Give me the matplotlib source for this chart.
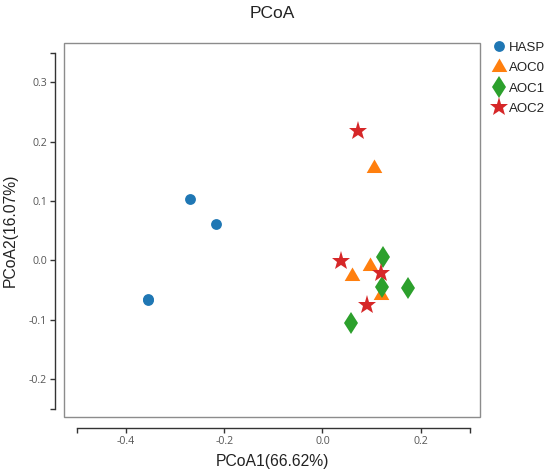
import matplotlib
matplotlib.use("Agg")
import matplotlib.pyplot as plt
from matplotlib.patches import Rectangle
from matplotlib.lines import Line2D

# ---- data ----
groups = ["HASP", "AOC0", "AOC1", "AOC2"]
hasp_x = [-0.269, -0.216, -0.356, -0.355]
hasp_y = [0.1035, 0.061, -0.065, -0.067]
aoc0_x = [0.104, 0.061, 0.096, 0.120]
aoc0_y = [0.156, -0.026, -0.010, -0.058]
aoc1_x = [0.124, 0.121, 0.175, 0.058]
aoc1_y = [0.005, -0.045, -0.047, -0.105]
aoc2_x = [0.073, 0.037, 0.120, 0.090]
aoc2_y = [0.218, -0.002, -0.022, -0.076]

xtick_vals = [-0.5, -0.4, -0.2, 0.0, 0.2, 0.3]
xtick_labels = ["", "-0.4", "-0.2", "0.0", "0.2", ""]
ytick_vals = [-0.25, -0.2, -0.1, 0.0, 0.1, 0.2, 0.3, 0.35]
ytick_labels = ["", "-0.2", "-0.1", "0.0", "0.1", "0.2", "0.3", ""]

title = "PCoA"
xlabel = "PCoA1(66.62%)"
ylabel = "PCoA2(16.07%)"

colors = ["#1f77b4", "#ff7f0e", "#2ca02c", "#d62728"]
tri = [(0, 0.577), (-0.5, -0.289), (0.5, -0.289)]
markers = ["o", tri, "d", "*"]
msizes = [7.8, 13.0, 11.5, 14.0]

plt.rcParams["font.family"] = ["Liberation Sans", "DejaVu Sans"]

fig = plt.figure(figsize=(5.5, 4.73), dpi=100)
ax = fig.add_axes([0.11636, 0.11776, 0.75636, 0.79133])
ax.set_xlim(-0.5265, 0.3208)
ax.set_ylim(-0.2647, 0.3663)

# frame box
ax.add_patch(Rectangle((0, 0), 1, 1, transform=ax.transAxes, fill=False,
                       edgecolor="#8c8c8c", linewidth=1.0, clip_on=False, zorder=1))

series = [(hasp_x, hasp_y), (aoc0_x, aoc0_y), (aoc1_x, aoc1_y), (aoc2_x, aoc2_y)]
for (xs, ys), g, c, m, s in zip(series, groups, colors, markers, msizes):
    ax.plot(xs, ys, linestyle="none", marker=m, markersize=s, color=c,
            markeredgewidth=0, label=g, zorder=3, clip_on=False)

for side in ["top", "right"]:
    ax.spines[side].set_visible(False)
ax.spines["left"].set_position(("outward", 6.8))
ax.spines["bottom"].set_position(("outward", 7.9))
ax.spines["left"].set_bounds(-0.25, 0.35)
ax.spines["bottom"].set_bounds(-0.5, 0.3)
for side in ["left", "bottom"]:
    ax.spines[side].set_color("#333333")
    ax.spines[side].set_linewidth(1.0)

ax.set_xticks(xtick_vals)
ax.set_xticklabels(xtick_labels)
ax.set_yticks(ytick_vals)
ax.set_yticklabels(ytick_labels)
ax.tick_params(axis="both", direction="out", length=3.6, width=1.0, color="#333333",
               labelsize=7.6, labelcolor="#555555")
ax.tick_params(axis="x", pad=2.0)
ax.tick_params(axis="y", pad=1.8)
for lab in ax.get_xticklabels() + ax.get_yticklabels():
    lab.set_family(["Open Sans", "DejaVu Sans"])

ax.set_xlabel(xlabel, fontsize=11.3, color="#222222")
ax.set_ylabel(ylabel, fontsize=11.3, color="#222222")
ax.xaxis.set_label_coords(0.5, (417.3 - 462) / (417.3 - 43))
ax.yaxis.set_label_coords((10 - 64) / (480 - 64), 0.5)
ax.xaxis.label.set_va("center")
ax.yaxis.label.set_va("center")

fig.text(272 / 550, 1 - 13 / 473, title, ha="center", va="center",
         fontsize=12.5, color="#222222")

handles = [Line2D([], [], linestyle="none", marker=m, markersize=s, color=c,
                  markeredgewidth=0) for c, m, s in zip(colors, markers, msizes)]
leg = fig.legend(handles, groups, loc="upper left",
                 bbox_to_anchor=(492.4 / 550, 1 - 41.5 / 473),
                 frameon=False, fontsize=9.5, handlelength=1.0, handletextpad=0.28,
                 labelspacing=0.62, borderpad=0, borderaxespad=0)
for t in leg.get_texts():
    t.set_color("#222222")

fig.savefig("out.png", dpi=100)
